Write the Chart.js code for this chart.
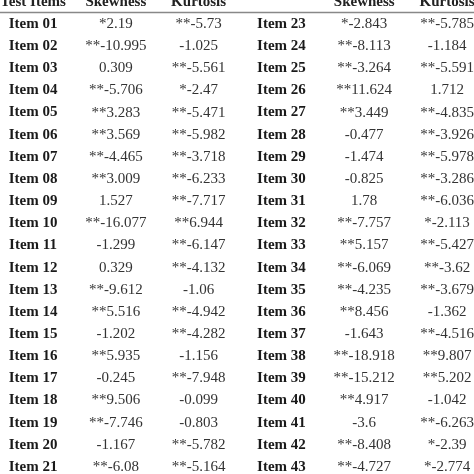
<!DOCTYPE html>
<html><head><meta charset="utf-8">
<script src="https://cdn.jsdelivr.net/npm/chart.js@4"></script>
<style>html,body{margin:0;padding:0;background:#fff}#w{width:474px;height:474px}</style>
</head><body><div id="w"><canvas id="c"></canvas></div>
<script>
const headers = ["Test Items","Skewness","Kurtosis","","Skewness","Kurtosis"];
const itemsLeft = ["Item 01","Item 02","Item 03","Item 04","Item 05","Item 06","Item 07","Item 08","Item 09","Item 10","Item 11","Item 12","Item 13","Item 14","Item 15","Item 16","Item 17","Item 18","Item 19","Item 20","Item 21"];
const skewLeft = ["*2.19","**-10.995","0.309","**-5.706","**3.283","**3.569","**-4.465","**3.009","1.527","**-16.077","-1.299","0.329","**-9.612","**5.516","-1.202","**5.935","-0.245","**9.506","**-7.746","-1.167","**-6.08"];
const kurtLeft = ["**-5.73","-1.025","**-5.561","*-2.47","**-5.471","**-5.982","**-3.718","**-6.233","**-7.717","**6.944","**-6.147","**-4.132","-1.06","**-4.942","**-4.282","-1.156","**-7.948","-0.099","-0.803","**-5.782","**-5.164"];
const itemsRight = ["Item 23","Item 24","Item 25","Item 26","Item 27","Item 28","Item 29","Item 30","Item 31","Item 32","Item 33","Item 34","Item 35","Item 36","Item 37","Item 38","Item 39","Item 40","Item 41","Item 42","Item 43"];
const skewRight = ["*-2.843","**-8.113","**-3.264","**11.624","**3.449","-0.477","-1.474","-0.825","1.78","**-7.757","**5.157","**-6.069","**-4.235","**8.456","-1.643","**-18.918","**-15.212","**4.917","-3.6","**-8.408","**-4.727"];
const kurtRight = ["**-5.785","-1.184","**-5.591","1.712","**-4.835","**-3.926","**-5.978","**-3.286","**-6.036","*-2.113","**-5.427","**-3.62","**-3.679","-1.362","**-4.516","**9.807","**5.202","-1.042","**-6.263","*-2.39","*-2.774"];

const columns = [itemsLeft, skewLeft, kurtLeft, itemsRight, skewRight, kurtRight];
const pts = [];
headers.forEach((h,c)=>pts.push({x:c,y:0,t:h,k:'h'}));
columns.forEach((col,c)=>col.forEach((t,r)=>pts.push({x:c,y:r+1,t:t,k:(c%3===0)?'i':'v'})));

const textPlugin = {
  id:'tableText',
  afterDatasetsDraw(chart){
    const ctx = chart.ctx, xs = chart.scales.x, ys = chart.scales.y;
    ctx.save();
    // header rule
    const ly = (ys.getPixelForValue(0)+ys.getPixelForValue(1))/2 - 0.5;
    ctx.strokeStyle='#888'; ctx.lineWidth=1.5;
    ctx.beginPath(); ctx.moveTo(0,ly); ctx.lineTo(chart.width,ly); ctx.stroke();
    ctx.textAlign='center'; ctx.textBaseline='middle';
    pts.forEach(p=>{
      const x = xs.getPixelForValue(p.x), y = ys.getPixelForValue(p.y);
      if(p.k==='h'){ctx.font='bold 15px "Liberation Serif", serif'; ctx.fillStyle='#222';}
      else if(p.k==='i'){ctx.font='bold 15px "Liberation Serif", serif'; ctx.fillStyle='#1a1a1a';}
      else {ctx.font='15px "Liberation Serif", serif'; ctx.fillStyle='#333';}
      ctx.fillText(p.t,x,y);
    });
    ctx.restore();
  }
};

new Chart(document.getElementById('c'),{
  type:'scatter',
  data:{datasets:[{data:pts.map(p=>({x:p.x,y:p.y})),pointRadius:0}]},
  options:{
    responsive:true, maintainAspectRatio:false, animation:false,
    layout:{padding:0},
    plugins:{legend:{display:false},tooltip:{enabled:false}},
    scales:{
      x:{type:'linear',display:false,min:-0.399,max:5.326},
      y:{type:'linear',display:false,reverse:true,min:-0.0835,max:21.316}
    }
  },
  plugins:[textPlugin]
});
</script></body></html>
